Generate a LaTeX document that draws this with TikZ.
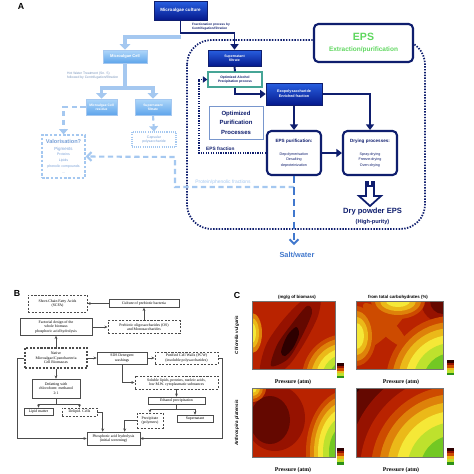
\documentclass[tikz,border=0pt]{standalone}
\usepackage{fontspec}
\setmainfont{Liberation Serif}
\setsansfont{Liberation Sans}
\usetikzlibrary{arrows.meta}

\definecolor{navytop}{RGB}{40,95,225}
\definecolor{navybot}{RGB}{5,25,140}
\definecolor{navyline}{RGB}{15,30,110}
\definecolor{lbtop}{RGB}{175,215,250}
\definecolor{lbbot}{RGB}{95,165,235}
\definecolor{lbline}{RGB}{165,200,240}
\definecolor{lbtext}{RGB}{120,160,215}
\definecolor{epsgreen}{RGB}{95,215,95}
\definecolor{tealedge}{RGB}{70,165,150}
\definecolor{saltblue}{RGB}{65,120,205}
\definecolor{optedge}{RGB}{120,150,205}
\definecolor{hA}{RGB}{45,0,0}
\definecolor{hB}{RGB}{100,8,0}
\definecolor{hC}{RGB}{150,18,0}
\definecolor{hD}{RGB}{185,35,0}
\definecolor{hE}{RGB}{205,75,0}
\definecolor{hF}{RGB}{222,130,10}
\definecolor{hG}{RGB}{235,185,25}
\definecolor{hH}{RGB}{245,232,55}
\definecolor{hI}{RGB}{190,225,45}
\definecolor{hJ}{RGB}{115,200,35}
\definecolor{hK}{RGB}{45,145,25}

\tikzset{
  sz/.style 2 args={minimum width=#1*0.02cm, minimum height=#2*0.02cm},
  navbox/.style={draw=navyline, line width=0.3pt, top color=navytop, bottom color=navybot, text=white, align=center, inner sep=0pt},
  lbbox/.style={draw=lbline, line width=0.3pt, top color=lbtop, bottom color=lbbot, text=white, align=center, inner sep=0pt},
  rbox/.style={draw=navyline, line width=1.2pt, rounded corners=2.5pt, fill=white, text=navyline, align=center, inner sep=0pt},
  navarr/.style={navyline, line width=1.1pt, -{Triangle[length=3.2pt,width=4.6pt]}},
  navln/.style={navyline, line width=1.1pt},
  lbarr/.style={lbline, line width=2.2pt, -{Triangle[length=3.2pt,width=6pt]}},
  lbdash/.style={lbline, line width=1.2pt, dash pattern=on 3pt off 2pt},
  bigdots/.style={navyline, line width=1pt, dash pattern=on 0.8pt off 0.8pt},
  bbox/.style={draw=black!70, line width=0.35pt, fill=white, align=center, inner sep=0pt, font=\fontsize{2.2}{2.6}\selectfont},
  bdashed/.style={bbox, dash pattern=on 1.2pt off 0.8pt, line width=0.55pt},
  barr/.style={black!70, line width=0.35pt, -{Stealth[length=1.8pt,width=1.6pt]}},
  plotframe/.style={draw=black!55, line width=0.25pt},
  pxlab/.style={font=\rmfamily\bfseries\fontsize{3.3}{4}\selectfont},
  ctitle/.style={font=\sffamily\bfseries\fontsize{2.5}{3}\selectfont},
  ylab/.style={font=\sffamily\bfseries\itshape\fontsize{2.6}{3}\selectfont, rotate=90},
}

\begin{document}
\begin{tikzpicture}[x=0.02cm, y=-0.02cm]
\useasboundingbox (0,0) rectangle (474,474);
\fill[white] (0,0) rectangle (474,474);

% panel A
\node[font=\sffamily\bfseries\fontsize{5}{6}\selectfont] (labA) at (21,6) {A};
\draw[bigdots, rounded corners=14pt] (187,40) rectangle (425,229);

\node[navbox, sz={53}{19}, font=\sffamily\bfseries\fontsize{2.6}{3}\selectfont] (cult) at (180.5,10.5) {Microalgae culture};
\node[anchor=west, align=left, text=navyline, font=\sffamily\bfseries\fontsize{1.8}{2.3}\selectfont] (fractxt) at (186,27) {Fractionation process by\\Centrifugation/filtration};
\node[lbbox, sz={44}{13}, font=\sffamily\bfseries\fontsize{2.3}{2.8}\selectfont] (cell) at (125,56.5) {Microalgae Cell};
\node[anchor=west, align=left, text=lbtext!70!gray, font=\sffamily\fontsize{1.9}{2.4}\selectfont] (hwtxt) at (61,76) {Hot Water Treatment (Sn. S)\\followed by Centrifugation/filtration};
\node[lbbox, sz={31}{16}, font=\sffamily\bfseries\fontsize{1.9}{2.4}\selectfont] (resid) at (101.5,107) {Microalgae Cell\\residue};
\node[lbbox, sz={36}{16}, font=\sffamily\bfseries\fontsize{1.9}{2.4}\selectfont] (supA) at (153,107) {Supernatant\\filtrate};
\node[draw=lbline, line width=0.7pt, dash pattern=on 1.5pt off 1pt, sz={43}{43}, align=center, inner sep=0pt, text=lbtext, font=\sffamily\fontsize{2}{3.4}\selectfont] (valor) at (63.5,156.5) {{\fontsize{3.2}{3.4}\selectfont\bfseries Valorisation?}\\[0.5pt]{\fontsize{2.5}{3.4}\selectfont Pigments}\\Proteins\\Lipids\\phenolic compounds\\...};
\node[draw=lbline, line width=0.6pt, dash pattern=on 0.6pt off 0.6pt, sz={44}{15}, align=center, inner sep=0pt, text=lbtext, font=\sffamily\fontsize{2}{2.6}\selectfont] (caps) at (154,139.5) {Capsular\\polysaccharide};
\node[text=lbline, font=\sffamily\fontsize{2.8}{3.2}\selectfont] (protxt) at (223,182) {Protein/phenolic fractions};

\node[navbox, sz={53}{16}, font=\sffamily\bfseries\fontsize{2}{2.5}\selectfont] (supB) at (234.5,58) {Supernatant\\filtrate};
\node[draw=tealedge, line width=0.7pt, fill=white, sz={54}{15}, align=center, inner sep=0pt, text=navyline, font=\sffamily\bfseries\fontsize{1.9}{2.4}\selectfont] (alc) at (235,79.5) {Optimized Alcohol\\Precipitation process};
\node[draw=optedge, line width=0.5pt, fill=white, sz={54}{33}, align=center, inner sep=0pt, text=navyline, font=\sffamily\bfseries\fontsize{3.4}{5.4}\selectfont] (opt) at (236,122.5) {Optimized\\Purification\\Processes};
\node[navbox, sz={56}{22}, font=\sffamily\bfseries\fontsize{2.1}{2.8}\selectfont] (exo) at (294,94) {Exopolysaccharide\\Enriched fraction};
\node[rbox, sz={99}{38}, text=epsgreen, font=\sffamily\bfseries\fontsize{3.7}{4.4}\selectfont] (epsb) at (363.5,43) {{\fontsize{6}{7}\selectfont EPS}\\[2.4pt]Extraction/purification};
\node[rbox, sz={54}{44}, font=\sffamily\fontsize{2.1}{3.1}\selectfont] (epsp) at (294,153) {{\bfseries\fontsize{2.6}{3.1}\selectfont EPS purification:}\\[4.3pt]Depolymerisation\\Desalting\\deproteinization};
\node[rbox, sz={54}{44}, font=\sffamily\fontsize{2.1}{3.1}\selectfont] (dry) at (370,153) {{\bfseries\fontsize{2.6}{3.1}\selectfont Drying processes:}\\[4.3pt]Spray-drying\\Freeze-drying\\Oven-drying};
\node[text=navyline, font=\sffamily\bfseries\fontsize{2.7}{3}\selectfont, anchor=west] (epsfr) at (200,149) {EPS fraction};
\node[text=navyline, align=center, font=\sffamily\bfseries\fontsize{4.3}{5.6}\selectfont] (drytxt) at (372.5,216) {Dry powder EPS\\{\fontsize{3.2}{5.6}\selectfont (High-purity)}};
\node[text=saltblue, font=\sffamily\bfseries\fontsize{4.2}{5}\selectfont] (salt) at (297,255) {Salt/water};

\coordinate (lbfork) at (181,37);
\coordinate (cellfork) at (125,88);
\coordinate (saltfork) at (294,187);
\coordinate (protturn) at (175,157);
\coordinate (saltend) at (294,245);
\draw[navarr] (cult.south) -- ++(0,13) -| (supB.north);
\draw[lbarr] (lbfork) -| (cell.north);
\draw[lbline, line width=2.2pt] (cell.south) -- (cellfork);
\draw[lbarr] (cellfork) -| (resid.north);
\draw[lbarr] (cellfork) -| (supA.north);
\draw[lbdash, -{Triangle[length=3pt,width=5pt]}] (resid.west) -| (valor.north);
\draw[lbdash, -{Triangle[length=3pt,width=5pt]}] (supA.south) -- (caps.north);
\draw[lbdash, -{Straight Barb[length=2.5pt,width=5pt]}] (saltfork) -| (protturn) -- (valor.east);
\draw[navln] (supB.south) -- (alc.north);
\draw[navarr] (alc.south) |- (exo.west);
\draw[navarr] (exo.south) -- (epsp.north);
\draw[navarr] (exo.east) -| (dry.north);
\draw[navarr] (epsp.east) -- (dry.west);
\draw[navyline, line width=0.8pt, dash pattern=on 0.7pt off 0.7pt, -{Triangle[length=2.5pt,width=3.5pt]}] (epsp.west) -- (199,153) |- (alc.west);
\draw[saltblue, line width=1.1pt, dash pattern=on 4pt off 2.5pt, -{Straight Barb[length=2.5pt,width=5pt]}] (epsp.south) -- (saltend);
\draw[navyline, line width=1pt, fill=white] (366,186) -- (374,186) -- (374,196) -- (381,196) -- (370,206) -- (359,196) -- (366,196) -- cycle;
\fill[navyline] (365,181) rectangle (369,185);
\fill[navyline] (371,181) rectangle (375,185);

% panel B
\node[font=\sffamily\bfseries\fontsize{5}{6}\selectfont] (labB) at (17,293) {B};
\node[bdashed, sz={59}{17}] (bscfa) at (57.5,303.5) {Short-Chain Fatty Acids\\(SCFA)};
\node[bbox, sz={70}{8}] (bcult) at (144,303.5) {Culture of prebiotic bacteria};
\node[bbox, sz={72}{17}] (bfact) at (56,327) {Factorial design of the\\whole biomass\\phosphoric acid hydrolysis};
\node[bdashed, sz={72}{13}] (bpreb) at (144,327) {Prebiotic oligosaccharides (OS)\\and Monosaccharides};
\node[bdashed, sz={62}{20}, line width=0.8pt] (bnat) at (56,358) {Native\\Microalgae/Cyanobacteria\\Cell Biomasses};
\node[bbox, sz={50}{12}] (bsds) at (122,358) {SDS Detergent\\washings};
\node[bdashed, sz={63}{12}] (bpcw) at (186.5,358) {Purified Cell Walls (PCW)\\(insoluble polysaccharides)};
\node[bdashed, sz={83}{13}] (bsol) at (176.5,382.5) {Soluble lipids, proteins, nucleic acids,\\low M.W. cytoplasmatic substances};
\node[bbox, sz={57}{7}] (beth) at (176.5,400.5) {Ethanol precipitation};
\node[bdashed, sz={26}{15}] (bprec) at (150,420.5) {Precipitate\\(polymers)};
\node[bbox, sz={36}{7}] (bsup) at (195,418.5) {Supernatant};
\node[bbox, sz={48}{19}] (bdef) at (56,388.5) {Defatting with\\chloroform: methanol\\2:1};
\node[bbox, sz={29}{7}] (blip) at (38.5,411.5) {Lipid matter};
\node[bdashed, sz={35}{8}] (bdel) at (79.5,412) {Delipid. Cells};
\node[bbox, sz={53}{13}] (bphos) at (113.5,438.5) {Phosphoric acid hydrolysis\\(initial screening)};

\draw[barr] (bcult.west) -- (bscfa.east);
\draw[barr] (bpreb.north) -- (bcult.south);
\draw[barr] (bfact.east) -- (bpreb.west);
\draw[barr] (bnat.north) -- (bfact.south);
\draw[barr] (bnat.east) -- (bsds.west);
\draw[barr] (bsds.east) -- (bpcw.west);
\draw[barr] (bsds.south) |- (bsol.west);
\draw[barr] (bsol.south) -- (beth.north);
\draw[barr] (beth.south) -- ++(0,4.5) -| (bprec.north);
\draw[barr] (beth.south) -- ++(0,4.5) -| (bsup.north);
\draw[barr] (bnat.south) -- (bdef.north);
\draw[barr] (bdef.south) -- ++(0,5.5) -| (blip.north);
\draw[barr] (bdef.south) -- ++(0,5.5) -| (bdel.north);
\draw[barr] (bdel.east) -| ([xshift=0.32cm]bphos.north west);
\draw[barr] (bprec.west) -| ([xshift=0.76cm]bphos.north west);
\draw[barr] (bnat.west) -- ++(-7,0) |- (bphos.west);
\draw[barr] (bpcw.east) -- ++(4,0) |- (bphos.east);

% panel C
\node[font=\sffamily\bfseries\fontsize{5}{6}\selectfont] (labC) at (237,295) {C};
\node[ctitle] (ttl1) at (297,297) {(mg/g of biomass)};
\node[ctitle] (ttl2) at (398,297) {from total carbohydrates (\%)};
\node[ylab] (yl1) at (237,335) {Chlorella vulgaris};
\node[ylab] (yl2) at (237,423) {Arthrospira platensis};

\begin{scope}
\clip (252,301) rectangle (335,369);
\fill[hD] (252,301) rectangle (335,369);
\fill[hF] (252,333) ellipse (10 and 20);
\fill[hG] (252,333) ellipse (7 and 15);
\fill[hH] (252,333) ellipse (4 and 10);
\fill[hC] plot[smooth cycle] coordinates {(260,372) (266,345) (283,320) (303,300) (320,296) (318,316) (305,342) (290,364) (275,375)};
\fill[hB] plot[smooth cycle] coordinates {(271,366) (277,345) (291,325) (307,306) (312,313) (301,338) (288,359)};
\fill[hA] plot[smooth cycle] coordinates {(281,352) (287,336) (296,327) (299,334) (293,348) (285,356)};
\fill[hE] (346,378) circle (44);
\fill[hF] (346,378) circle (40);
\fill[hG] (346,378) circle (35);
\fill[hH] (346,378) circle (30);
\fill[hI] (346,378) circle (24);
\fill[hJ] (346,378) circle (17);
\fill[hK] (346,378) circle (8);
\end{scope}
\begin{scope}
\clip (356,301) rectangle (443,369);
\fill[hD] (356,301) rectangle (443,369);
\fill[hC] (443,301) circle (22);
\fill[hB] (443,301) circle (13);
\fill[hE, rotate around={45:(385,325)}] (385,325) ellipse (35 and 9);
\fill[hE, rotate around={-45:(385,325)}] (385,325) ellipse (30 and 8);
\fill[hE] (398,301) ellipse (27 and 18);
\fill[hF] (398,301) ellipse (23 and 14);
\fill[hG] (398,301) ellipse (18 and 10);
\fill[hH] (398,301) ellipse (12 and 6);
\fill[hE] (356,336) ellipse (20 and 30);
\fill[hF] (356,336) ellipse (16 and 25);
\fill[hG] (356,336) ellipse (12 and 19);
\fill[hH] (356,336) ellipse (8 and 13);
\fill[hE] (452,382) circle (66);
\fill[hF] (452,382) circle (60);
\fill[hG] (452,382) circle (54);
\fill[hH] (452,382) circle (47);
\fill[hI] (452,382) circle (39);
\fill[hJ] (452,382) circle (29);
\fill[hK] (452,382) circle (14);
\end{scope}
\begin{scope}
\clip (252,388) rectangle (335,457);
\fill[hD] (252,388) rectangle (335,457);
\fill[hC] (275,418) ellipse (30 and 33);
\fill[hB] (270,420) ellipse (20 and 24);
\fill[hE] (252,388) circle (14);
\fill[hF] (252,388) circle (11);
\fill[hG] (252,388) circle (8);
\fill[hH] (252,388) circle (5);
\fill[hE] (348,452) ellipse (42 and 62);
\fill[hF] (348,452) ellipse (38 and 57);
\fill[hG] (348,452) ellipse (34 and 51);
\fill[hH] (348,452) ellipse (30 and 45);
\fill[hI] (348,452) ellipse (25 and 37);
\fill[hJ] (348,452) ellipse (19 and 28);
\fill[hK] (348,452) ellipse (10 and 14);
\end{scope}
\begin{scope}
\clip (356,388) rectangle (443,457);
\fill[hA] (356,388) rectangle (443,457);
\fill[hB] (455,470) circle (125);
\fill[hC] (455,470) circle (108);
\fill[hD] (455,470) circle (95);
\fill[hE] (455,470) circle (84);
\fill[hF] (455,470) circle (76);
\fill[hG] (455,470) circle (68);
\fill[hH] (455,470) circle (59);
\fill[hI] (455,470) circle (48);
\fill[hJ] (455,470) circle (35);
\fill[hK] (455,470) circle (15);
\end{scope}
\draw[plotframe] (252,301) rectangle (335,369);
\draw[plotframe] (356,301) rectangle (443,369);
\draw[plotframe] (252,388) rectangle (335,457);
\draw[plotframe] (356,388) rectangle (443,457);

% colour keys
\foreach \c [count=\i] in {hA,hC,hE,hG,hI,hK} {
  \fill[\c] (337,360.5+2.5*\i) rectangle +(7,2.5);
  \fill[\c] (447,357.5+2.5*\i) rectangle +(7,2.5);
  \fill[\c] (337,445+2.8*\i) rectangle +(7,2.8);
  \fill[\c] (447,445+2.8*\i) rectangle +(7,2.8);
}

\node[pxlab] (px1) at (293,382) {Pressure (atm)};
\node[pxlab] (px2) at (401,382) {Pressure (atm)};
\node[pxlab] (px3) at (293,470) {Pressure (atm)};
\node[pxlab] (px4) at (401,470) {Pressure (atm)};
\end{tikzpicture}
\end{document}
